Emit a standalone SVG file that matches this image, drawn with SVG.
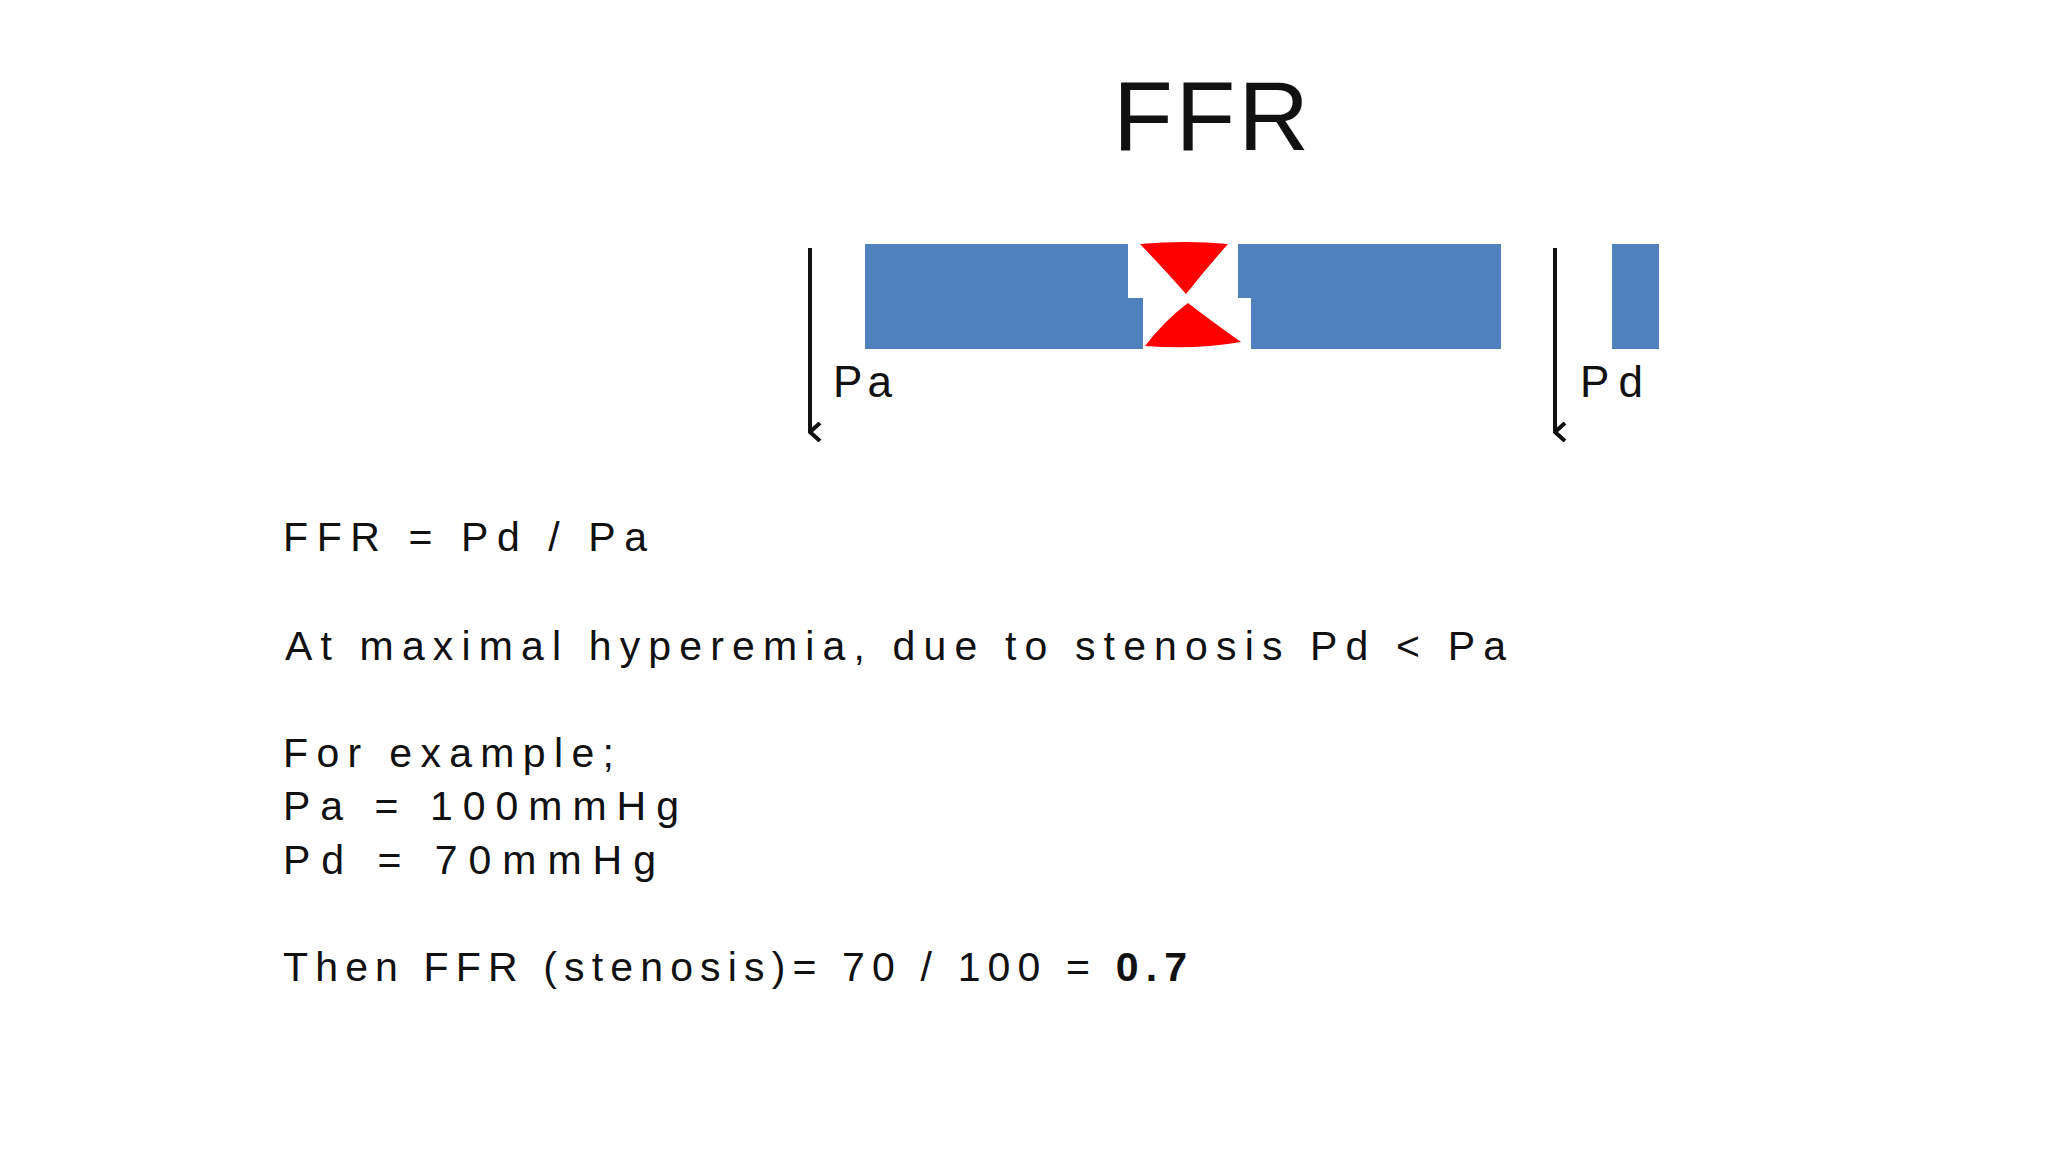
<svg xmlns="http://www.w3.org/2000/svg" width="2048" height="1152" viewBox="0 0 2048 1152">
<defs>
<style>
text{font-family:"Liberation Sans",Arial,sans-serif;fill:#111}
.b{fill:#4f81bd}
.r{fill:#ff0000}
.ln{stroke:#111;stroke-width:4;fill:none}
.body{font-size:41px}
</style>
<marker id="ah" viewBox="0 0 20 20" refX="10" refY="18" markerWidth="20" markerHeight="20" markerUnits="userSpaceOnUse" orient="auto-start-reverse">
<path d="M1 8 L10 18 L19 8" stroke="#111" stroke-width="4" fill="none"/>
</marker>
</defs>
<rect width="2048" height="1152" fill="#fff"/>
<g id="title"><text x="1113" y="150" font-size="98" textLength="196" lengthAdjust="spacing">FFR</text></g>
<g id="vessel">
<path class="b" d="M865 244 H1128 V298 H1143 V349 H865 Z"/>
<path class="b" d="M1238 244 H1501 V349 H1251 V298 H1238 Z"/>
<rect class="b" x="1612" y="244" width="47" height="105"/>
<path class="r" d="M1140 244 Q1186 240 1228 244 Q1205 270 1186 294 Q1165 270 1140 244 Z"/>
<path class="r" d="M1188 303 Q1210 320 1241 342 Q1195 350 1145 346 Q1165 320 1188 303 Z"/>
</g>
<g id="connectors">
<line class="ln" x1="810" y1="248" x2="810" y2="432" marker-end="url(#ah)"/>
<line class="ln" x1="1555" y1="248" x2="1555" y2="432" marker-end="url(#ah)"/>
</g>
<g id="labels">
<text x="833" y="397" font-size="44" textLength="59" lengthAdjust="spacing">Pa</text>
<text x="1580" y="397" font-size="44" textLength="63" lengthAdjust="spacing">Pd</text>
</g>
<g id="text" class="body">
<text class="body" x="283" y="551" textLength="364" lengthAdjust="spacing">FFR = Pd / Pa</text>
<text class="body" x="285" y="660" textLength="1221" lengthAdjust="spacing">At maximal hyperemia, due to stenosis Pd &lt; Pa</text>
<text class="body" x="283" y="767" textLength="331" lengthAdjust="spacing">For example;</text>
<text class="body" x="283" y="820" textLength="396" lengthAdjust="spacing">Pa = 100mmHg</text>
<text class="body" x="283" y="874" textLength="373" lengthAdjust="spacing">Pd = 70mmHg</text>
<text class="body" x="283" y="981" textLength="904" lengthAdjust="spacing">Then FFR (stenosis)= 70 / 100 = <tspan font-weight="bold">0.7</tspan></text>
</g>
</svg>
